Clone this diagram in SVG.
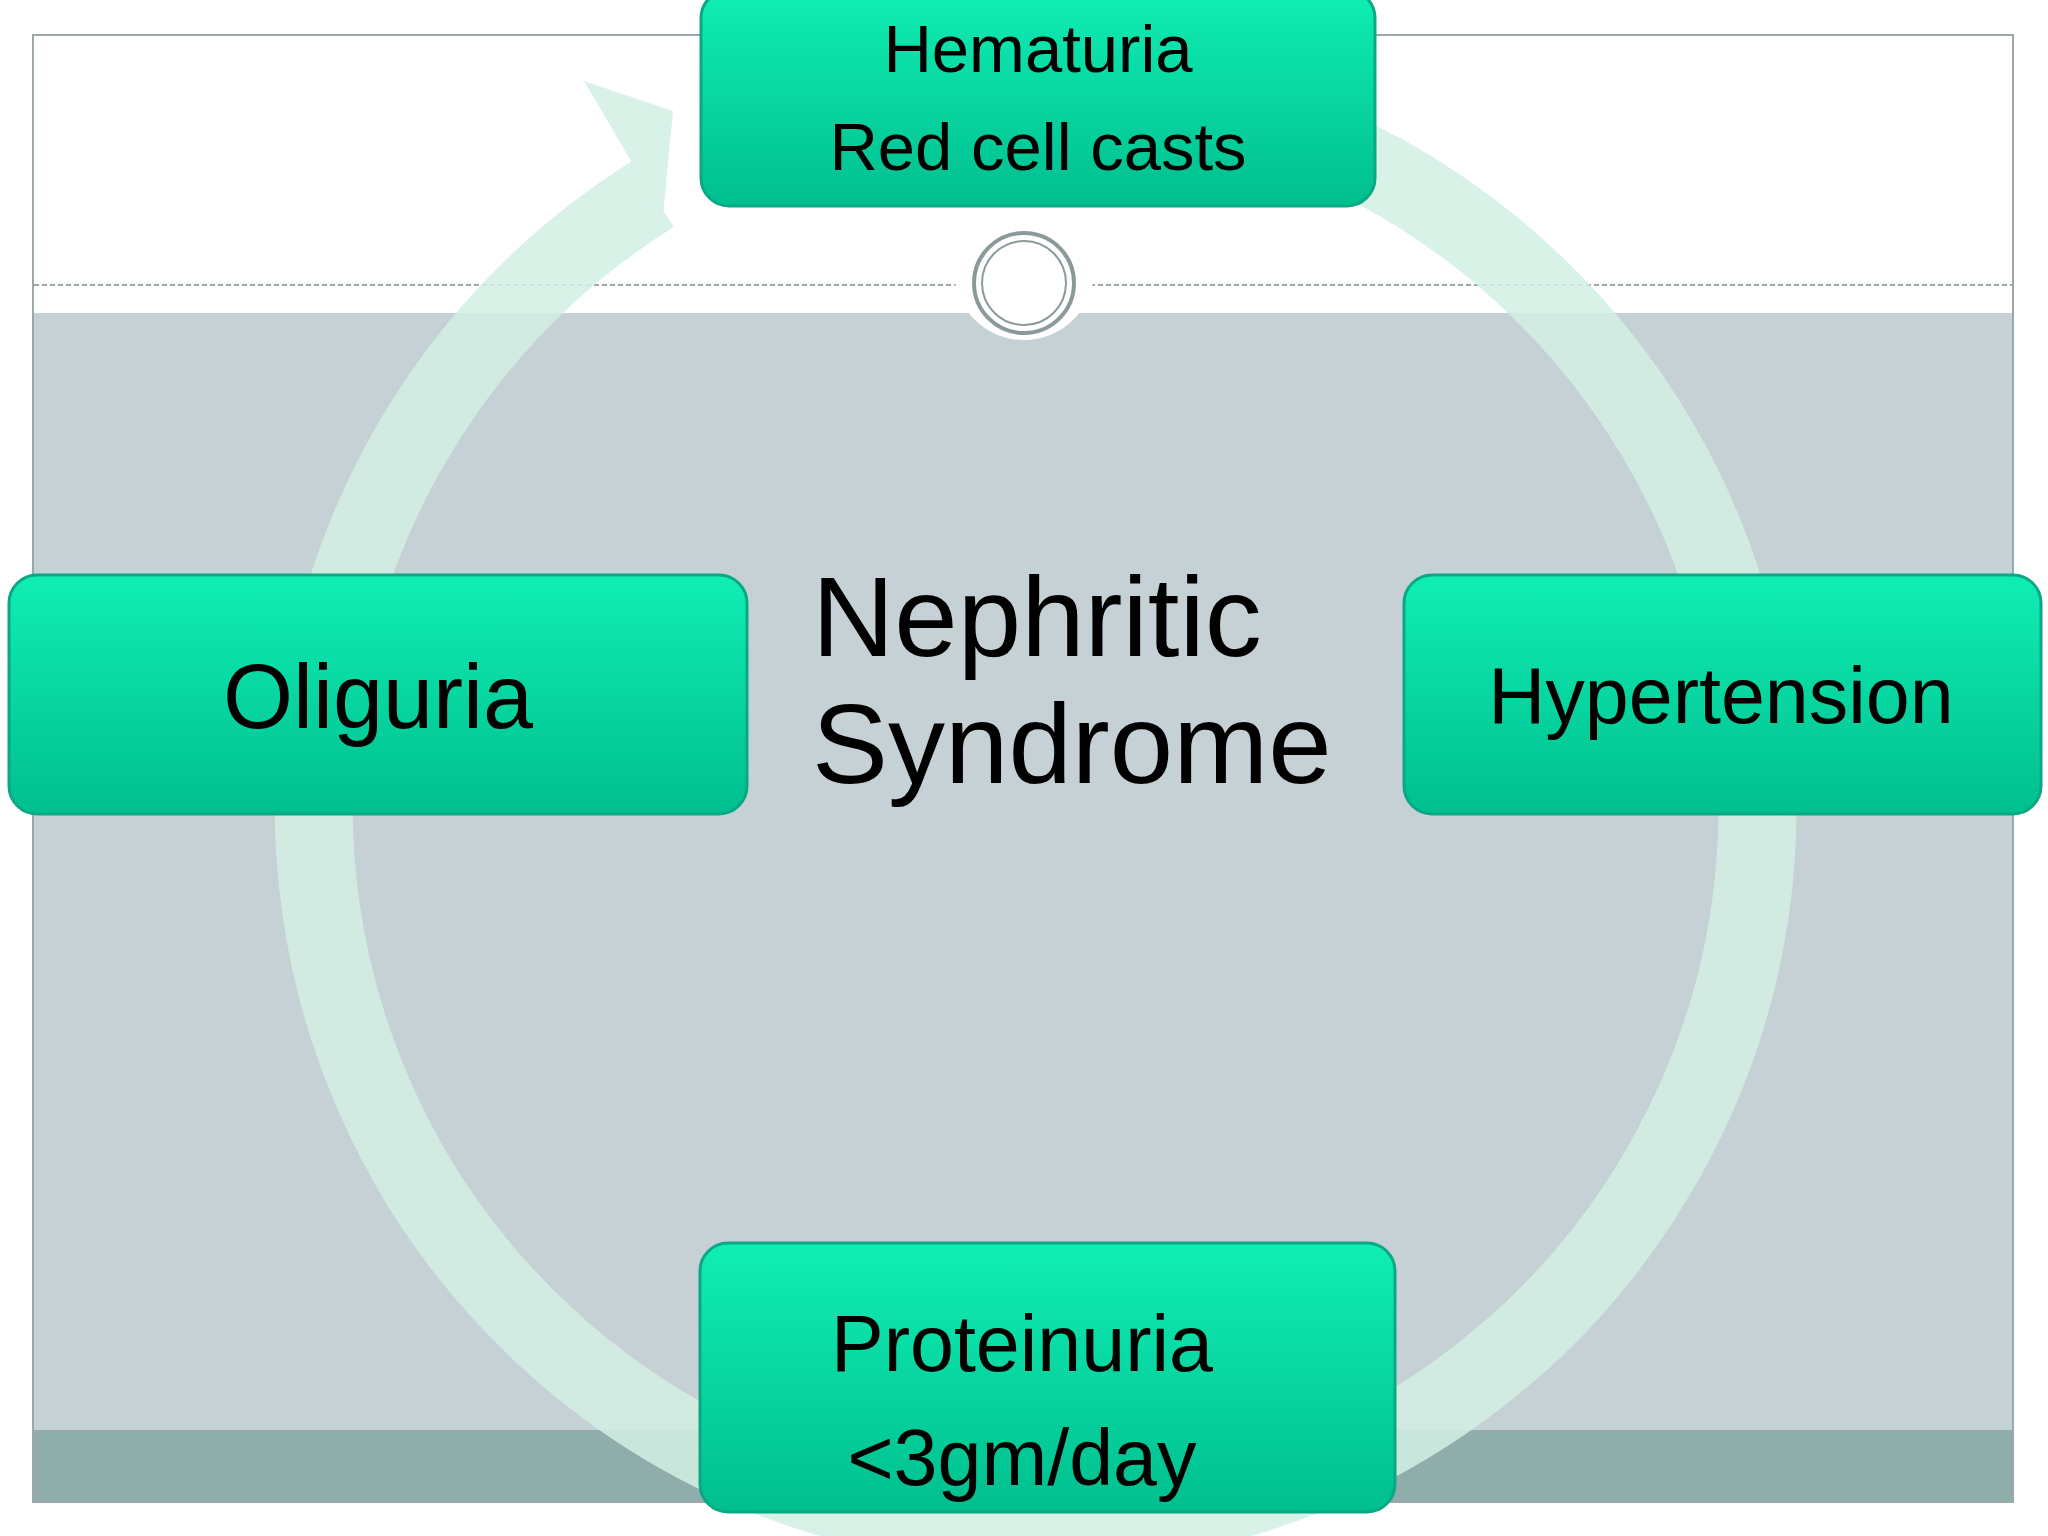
<svg xmlns="http://www.w3.org/2000/svg" width="2048" height="1536" viewBox="0 0 2048 1536">
<defs>
<linearGradient id="g" x1="0" y1="0" x2="0" y2="1"><stop offset="0" stop-color="#10eeb4"/><stop offset="1" stop-color="#00bf8e"/></linearGradient>
<style>.n{fill:url(#g);stroke:#0aa884;stroke-width:3}.t{font-family:"Liberation Sans",Arial,sans-serif;fill:#000;text-anchor:middle}</style>
</defs>
<rect width="2048" height="1536" fill="#fff"/>
<rect x="33" y="35" width="1980" height="1467" fill="#fff" stroke="#9aa8aa" stroke-width="2"/>
<rect x="34" y="313" width="1978" height="1117" fill="#c5d1d5"/>
<rect x="34" y="1430" width="1978" height="71" fill="#8fadab"/>
<line x1="34" y1="285" x2="2012" y2="285" stroke="#9aa8aa" stroke-width="2" stroke-dasharray="5,3"/>
<circle cx="1024" cy="270" r="70" fill="#fff"/>
<circle cx="1024" cy="283" r="50" fill="#fff" stroke="#8a9a9a" stroke-width="4"/>
<circle cx="1024" cy="283" r="42" fill="none" stroke="#8a9a9a" stroke-width="2"/>
<g id="connectors" opacity="0.85">
<path d="M1223 109 A722 722 0 1 1 653 194" fill="none" stroke="#d2f0e4" stroke-width="78"/>
<polygon points="584,81 673,111 663,215" fill="#d2f0e4"/>
</g>
<g id="top"><rect class="n" x="701" y="-10" width="674" height="216" rx="28"/>
<text class="t" x="1038" y="72" font-size="67">Hematuria</text><text class="t" x="1038" y="170" font-size="67">Red cell casts</text></g>
<g id="left"><rect class="n" x="9" y="575" width="738" height="239" rx="28"/>
<text class="t" x="378" y="728" font-size="90">Oliguria</text></g>
<g id="right"><rect class="n" x="1404" y="575" width="637" height="239" rx="28"/>
<text class="t" x="1721" y="723" font-size="79">Hypertension</text></g>
<g id="bottom"><rect class="n" x="700" y="1243" width="695" height="269" rx="28"/>
<text class="t" x="1022" y="1371" font-size="79">Proteinuria</text><text class="t" x="1022" y="1485" font-size="79">&lt;3gm/day</text></g>
<g id="center"><text x="812" y="656" font-size="114" font-family="Liberation Sans,Arial,sans-serif">Nephritic</text>
<text x="812" y="783" font-size="114" font-family="Liberation Sans,Arial,sans-serif">Syndrome</text></g>
</svg>
